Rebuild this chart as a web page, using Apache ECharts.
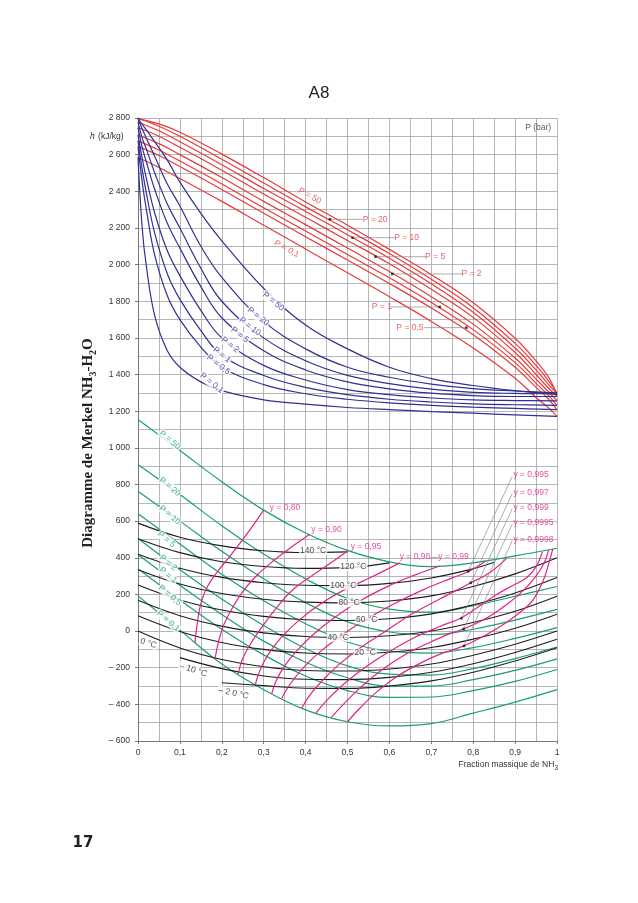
<!DOCTYPE html>
<html>
<head>
<meta charset="utf-8">
<script src="https://cdn.jsdelivr.net/npm/echarts/dist/echarts.min.js"></script>
<style>
  html, body { margin: 0; padding: 0; background: #fff; }
  #main { width: 638px; height: 903px; }
</style>
</head>
<body>
<div id="main"></div>
<script>
// pressures, bar (row order of every table below)
const pressures = ['0,1', '0,5', '1', '2', '5', '10', '20', '50'];

// dew lines (red)
const dewX = [0, 0.05, 0.1, 0.2, 0.3, 0.4, 0.5, 0.6, 0.7, 0.8, 0.9, 0.95, 0.98, 1];
const dewH = [
  [2584, 2530, 2470, 2345, 2215, 2085, 1955, 1825, 1690, 1545, 1380, 1275, 1218, 1172],
  [2645, 2595, 2535, 2410, 2280, 2152, 2025, 1897, 1763, 1617, 1440, 1330, 1265, 1208],
  [2675, 2625, 2565, 2440, 2310, 2183, 2055, 1928, 1793, 1645, 1465, 1352, 1285, 1232],
  [2706, 2660, 2600, 2475, 2345, 2218, 2090, 1962, 1825, 1675, 1490, 1375, 1305, 1258],
  [2748, 2700, 2640, 2515, 2385, 2258, 2132, 2005, 1865, 1712, 1520, 1400, 1325, 1280],
  [2777, 2730, 2670, 2545, 2415, 2290, 2163, 2035, 1895, 1740, 1545, 1425, 1345, 1295],
  [2799, 2755, 2700, 2575, 2445, 2315, 2190, 2060, 1920, 1765, 1570, 1450, 1365, 1300],
  [2794, 2768, 2722, 2603, 2475, 2342, 2215, 2083, 1945, 1792, 1598, 1474, 1385, 1290]
];

// auxiliary lines (blue)
const auxX = [0, 0.01, 0.02, 0.04, 0.07, 0.1, 0.15, 0.2, 0.3, 0.4, 0.5, 0.6, 0.7, 0.8, 0.9, 1];
const auxH = [
  [2584, 2200, 1990, 1720, 1530, 1440, 1360, 1312, 1262, 1238, 1220, 1208, 1198, 1189, 1180, 1172],
  [2645, 2450, 2300, 2050, 1830, 1700, 1550, 1440, 1345, 1295, 1265, 1245, 1232, 1222, 1215, 1208],
  [2675, 2520, 2390, 2170, 1950, 1810, 1640, 1505, 1395, 1330, 1290, 1265, 1250, 1240, 1235, 1232],
  [2706, 2580, 2470, 2280, 2075, 1940, 1750, 1600, 1450, 1370, 1318, 1290, 1272, 1262, 1258, 1256],
  [2748, 2640, 2560, 2410, 2225, 2090, 1880, 1710, 1530, 1425, 1360, 1322, 1298, 1285, 1280, 1280],
  [2777, 2690, 2630, 2500, 2330, 2200, 1980, 1800, 1600, 1475, 1395, 1350, 1320, 1303, 1297, 1295],
  [2799, 2740, 2690, 2590, 2440, 2320, 2100, 1930, 1690, 1540, 1440, 1385, 1348, 1323, 1310, 1300],
  [2794, 2765, 2735, 2670, 2570, 2450, 2280, 2130, 1870, 1670, 1540, 1440, 1378, 1340, 1312, 1292]
];

// bubble lines (green)
const bubbleX = [0, 0.1, 0.2, 0.3, 0.4, 0.5, 0.6, 0.7, 0.8, 0.9, 1];
const bubbleH = [
  [192, 5, -180, -320, -430, -495, -518, -505, -448, -388, -320],
  [340, 170, 10, -130, -245, -325, -362, -360, -325, -275, -210],
  [417, 250, 90, -55, -170, -255, -300, -300, -265, -215, -152],
  [505, 335, 175, 30, -95, -190, -235, -240, -205, -150, -87],
  [640, 475, 310, 165, 40, -60, -110, -120, -90, -40, 19],
  [763, 600, 435, 285, 155, 50, -5, -20, 10, 60, 118],
  [909, 745, 575, 420, 285, 178, 120, 103, 138, 190, 243],
  [1155, 985, 815, 660, 535, 440, 378, 352, 372, 410, 452]
];

// isotherms (black), °C
const isoTemps = [140, 120, 100, 80, 60, 40, 20, 0, -10, -20];
const isotherms = [
  [[0, 589], [0.1, 512], [0.2, 465], [0.3, 438], [0.4, 428], [0.5, 432]],
  [[0, 504], [0.1, 428], [0.2, 378], [0.3, 352], [0.4, 342], [0.5, 346], [0.6, 372]],
  [[0, 419], [0.1, 343], [0.2, 293], [0.3, 264], [0.4, 250], [0.5, 248], [0.6, 260], [0.7, 290], [0.8, 340], [0.85, 375]],
  [[0, 335], [0.1, 257], [0.2, 205], [0.3, 174], [0.4, 158], [0.5, 154], [0.6, 164], [0.7, 192], [0.8, 243], [0.9, 312], [1, 400]],
  [[0, 251], [0.1, 170], [0.2, 115], [0.3, 80], [0.4, 62], [0.5, 58], [0.6, 67], [0.7, 94], [0.8, 143], [0.9, 208], [1, 292]],
  [[0, 168], [0.1, 84], [0.2, 27], [0.3, -10], [0.4, -30], [0.5, -35], [0.6, -26], [0.7, 0], [0.8, 47], [0.9, 108], [1, 190]],
  [[0, 84], [0.1, -2], [0.2, -62], [0.3, -100], [0.4, -120], [0.5, -125], [0.6, -116], [0.7, -90], [0.8, -44], [0.9, 15], [1, 92]],
  [[0, 0], [0.1, -92], [0.2, -155], [0.3, -195], [0.4, -215], [0.5, -218], [0.6, -207], [0.7, -180], [0.8, -132], [0.9, -72], [1, 0]],
  [[0.1, -145], [0.2, -205], [0.3, -245], [0.4, -263], [0.5, -265], [0.6, -253], [0.7, -225], [0.8, -178], [0.9, -117], [1, -45]],
  [[0.2, -282], [0.3, -298], [0.4, -312], [0.5, -313], [0.6, -300], [0.7, -272], [0.8, -225], [0.9, -163], [1, -91]]
];

// vapour composition lines (magenta)
const yValues = ['0,80', '0,90', '0,95', '0,98', '0,99', '0,995', '0,997', '0,999', '0,9995', '0,9998'];
const yLines = [
  [[0.136, -62], [0.142, 50], [0.150, 150], [0.165, 240], [0.19, 325], [0.22, 410], [0.26, 530], [0.30, 660]],
  [[0.184, -150], [0.192, -60], [0.205, 35], [0.225, 125], [0.25, 215], [0.28, 295], [0.315, 368], [0.36, 448], [0.41, 528]],
  [[0.239, -235], [0.25, -150], [0.27, -65], [0.3, 35], [0.33, 125], [0.367, 220], [0.42, 310], [0.46, 372], [0.502, 440]],
  [[0.28, -292], [0.29, -220], [0.31, -130], [0.34, -40], [0.38, 50], [0.43, 140], [0.49, 222], [0.555, 292], [0.625, 372]],
  [[0.319, -341], [0.33, -270], [0.35, -190], [0.38, -105], [0.42, -15], [0.47, 75], [0.53, 165], [0.6, 248], [0.66, 305], [0.72, 355]],
  [[0.343, -367], [0.36, -300], [0.39, -212], [0.43, -122], [0.48, -32], [0.54, 58], [0.61, 148], [0.68, 225], [0.75, 290], [0.79, 326], [0.83, 382]],
  [[0.391, -420], [0.41, -350], [0.44, -270], [0.48, -182], [0.53, -92], [0.59, -2], [0.65, 88], [0.72, 175], [0.79, 258], [0.84, 320], [0.88, 398]],
  [[0.425, -446], [0.45, -380], [0.49, -292], [0.54, -202], [0.6, -112], [0.66, -35], [0.72, 25], [0.77, 70], [0.81, 128], [0.856, 200], [0.9, 255], [0.928, 292], [0.95, 350], [0.965, 432]],
  [[0.462, -470], [0.49, -400], [0.53, -310], [0.58, -215], [0.64, -125], [0.7, -58], [0.74, -18], [0.777, 11], [0.83, 68], [0.88, 145], [0.92, 222], [0.95, 300], [0.97, 375], [0.98, 444]],
  [[0.5, -495], [0.53, -420], [0.57, -332], [0.62, -245], [0.68, -168], [0.73, -118], [0.778, -81], [0.83, -22], [0.88, 48], [0.92, 118], [0.943, 170], [0.967, 275], [0.98, 365], [0.99, 448]]
];

// curve labels: text, x, h, rotation
const redLabels = [
  ['P = 50', 0.41, 2375, -29], ['P = 0,1', 0.355, 2085, -29],
  ['P = 20', 0.566, 2247, 0], ['P = 10', 0.641, 2147, 0], ['P = 5', 0.709, 2043, 0],
  ['P = 2', 0.796, 1949, 0], ['P = 1', 0.582, 1769, 0], ['P = 0,5', 0.649, 1656, 0]
];
// red leaders: dot x, h, label-side x
const redLeaders = [
  [0.458, 2247, 0.537], [0.512, 2147, 0.613], [0.567, 2043, 0.689],
  [0.607, 1949, 0.776], [0.72, 1769, 0.603], [0.784, 1656, 0.683]
];
const blueLabels = [
  ['P = 50', 0.323, 1798], ['P = 20', 0.287, 1716], ['P = 10', 0.267, 1662], ['P = 5', 0.243, 1616],
  ['P = 2', 0.22, 1562], ['P = 1', 0.2, 1507], ['P = 0,5', 0.192, 1453], ['P = 0,1', 0.176, 1353]
];
const greenLabels = [
  ['P = 50', 0.076, 1042], ['P = 20', 0.076, 787], ['P = 10', 0.076, 633], ['P = 5', 0.068, 500],
  ['P = 2', 0.072, 372], ['P = 1', 0.072, 305], ['P = 0,5', 0.076, 195], ['P = 0,1', 0.072, 55]
];
const blackLabels = [
  ['140 °C', 0.418, 440, 0], ['120 °C', 0.514, 352, 0], ['100 °C', 0.49, 250, 0], ['80 °C', 0.504, 155, 0],
  ['60 °C', 0.546, 62, 0], ['40 °C', 0.478, -34, 0], ['20 °C', 0.542, -120, 0],
  ['0 °C', 0.025, -67, -18], ['– 10 °C', 0.132, -212, -18], ['– 2 0 °C', 0.228, -339, -12]
];
const magentaLabels = [
  ['y = 0,80', 0.351, 676], ['y = 0,90', 0.45, 556], ['y = 0,95', 0.544, 461],
  ['y = 0,98', 0.661, 406], ['y = 0,99', 0.753, 406]
];
// right-hand y labels: label h, dot x, dot h
const yRightLabels = [
  [851, 0.788, 326], [757, 0.794, 263], [675, 0.772, 70], [591, 0.777, 11], [500, 0.778, -81]
];

const RED = '#e63a3c', BLUE = '#2e3192', GREEN = '#17a070', BLACK = '#1e1e1e', MAG = '#e0238a';
const FONT = 'Liberation Sans';

const chart = echarts.init(document.getElementById('main'));

function curve(data, color, width, z) {
  return {
    type: 'line', data, smooth: 0.4, symbol: 'none', showSymbol: false,
    lineStyle: { color, width }, silent: true, z: z || 3
  };
}
function zip(xs, hs) { return xs.map((x, i) => [x, hs[i]]); }

function labels(items, color, rot, opts) {
  opts = opts || {};
  return {
    type: 'scatter', symbolSize: 0, silent: true, z: opts.z || 10,
    data: items.map(it => ({
      value: [it[1], it[2]],
      label: {
        show: true, position: 'inside', formatter: it[0],
        rotate: it[3] !== undefined ? it[3] : rot, color,
        fontFamily: FONT, fontSize: 8.5, align: opts.align || 'center',
        backgroundColor: opts.bg || 'transparent', padding: opts.bg ? [0, 1] : 0
      }
    }))
  };
}
function leader(a, b, z) {
  return { type: 'line', data: [a, b], symbol: 'none', silent: true, z: z || 8,
    lineStyle: { color: '#8a8a8a', width: 0.7 } };
}

const series = [];
dewH.forEach(hs => series.push(curve(zip(dewX, hs), RED, 1.2)));
auxH.forEach(hs => series.push(curve(zip(auxX, hs), BLUE, 1.2)));
bubbleH.forEach(hs => series.push(curve(zip(bubbleX, hs), GREEN, 1.2)));
isotherms.forEach(d => series.push(curve(d, BLACK, 1.1, 4)));
yLines.forEach(d => series.push(curve(d, MAG, 1.2, 5)));

redLeaders.forEach(([x, h, lx]) => series.push(leader([x, h], [lx, h])));
yRightLabels.forEach(([lh, x, h]) => series.push(leader([0.893, lh - 8], [x, h])));
series.push(leader([0.697, 402], [0.718, 402]));
series.push({
  type: 'scatter', symbol: 'rect', symbolSize: 2.5, silent: true, z: 9,
  itemStyle: { color: '#111' },
  data: redLeaders.map(r => [r[0], r[1]]).concat(yRightLabels.map(r => [r[1], r[2]]))
});

series.push(labels(redLabels, RED, 0));
series.push(labels(blueLabels, BLUE, -38, { bg: '#fff' }));
series.push(labels(greenLabels, GREEN, -40, { bg: '#fff' }));
series.push(labels(blackLabels, BLACK, 0, { bg: '#fff' }));
series.push(labels(magentaLabels, MAG, 0));
series.push(labels(yRightLabels.map((r, i) => ['y = ' + yValues[5 + i], 0.896, r[0]]), MAG, 0, { align: 'left' }));
series.push(labels([['P (bar)', 0.955, 2745]], '#333', 0));

function fmtY(v) {
  const a = Math.abs(v);
  const s = a >= 1000 ? Math.floor(a / 1000) + ' ' + String(a % 1000).padStart(3, '0') : String(a);
  return v < 0 ? '– ' + s : s;
}
function fmtX(v) {
  if (v === 0) return '0';
  if (Math.abs(v - 1) < 1e-9) return '1';
  return v.toFixed(1).replace('.', ',');
}

const gridColor = '#a3a3a3';
chart.setOption({
  animation: false,
  backgroundColor: '#fff',
  grid: { left: 138, right: 81, top: 118, bottom: 162 },
  xAxis: {
    type: 'value', min: 0, max: 1, interval: 0.1,
    axisLine: { onZero: false, lineStyle: { color: '#777' } },
    axisTick: { length: 3, lineStyle: { color: '#777' } },
    axisLabel: { formatter: fmtX, fontSize: 8.5, color: '#333', fontFamily: FONT, margin: 7 },
    splitLine: { show: true, lineStyle: { color: gridColor, width: 0.8 } },
    minorTick: { show: false, splitNumber: 2 },
    minorSplitLine: { show: true, lineStyle: { color: gridColor, width: 0.8 } }
  },
  yAxis: {
    type: 'value', min: -600, max: 2800, interval: 200,
    axisLine: { show: true, onZero: false, lineStyle: { color: '#777' } },
    axisTick: { show: true, length: 3, lineStyle: { color: '#777' } },
    axisLabel: { formatter: fmtY, fontSize: 8.5, color: '#333', fontFamily: FONT, margin: 8 },
    splitLine: { show: true, lineStyle: { color: gridColor, width: 0.8 } },
    minorTick: { show: false, splitNumber: 2 },
    minorSplitLine: { show: true, lineStyle: { color: gridColor, width: 0.8 } }
  },
  graphic: [
    { type: 'text', x: 319, y: 93, style: { text: 'A8', fill: '#222', font: '17px "Liberation Sans"', align: 'center', verticalAlign: 'middle' } },
    { type: 'text', x: 90, y: 137, style: {
        text: '{i|h} {n|(kJ/kg)}', align: 'left', verticalAlign: 'middle',
        rich: { i: { fontStyle: 'italic', fontSize: 8.5, fontFamily: FONT, fill: '#333' }, n: { fontSize: 8.5, fontFamily: FONT, fill: '#333' } } } },
    { type: 'text', x: 558, y: 765, style: {
        text: '{n|Fraction massique de NH}{s|3}', align: 'right', verticalAlign: 'middle',
        rich: { n: { fontSize: 8.5, fontFamily: FONT, fill: '#333', lineHeight: 14 },
                s: { fontSize: 6.5, fontFamily: FONT, fill: '#333', lineHeight: 14, verticalAlign: 'bottom' } } } },
    { type: 'text', x: 88, y: 443, rotation: Math.PI / 2, style: {
        text: '{n|Diagramme de Merkel NH}{s|3}{n|-H}{s|2}{n|O}', align: 'center', verticalAlign: 'middle',
        rich: { n: { fontSize: 15, fontWeight: 'bold', fontFamily: 'Liberation Serif', fill: '#222', lineHeight: 21 },
                s: { fontSize: 10, fontWeight: 'bold', fontFamily: 'Liberation Serif', fill: '#222', lineHeight: 21, verticalAlign: 'bottom' } } } },
    { type: 'text', x: 83, y: 843, style: { text: '17', fill: '#222', font: 'bold 15px "DejaVu Sans"', align: 'center', verticalAlign: 'middle' } }
  ],
  series
});
</script>
</body>
</html>
